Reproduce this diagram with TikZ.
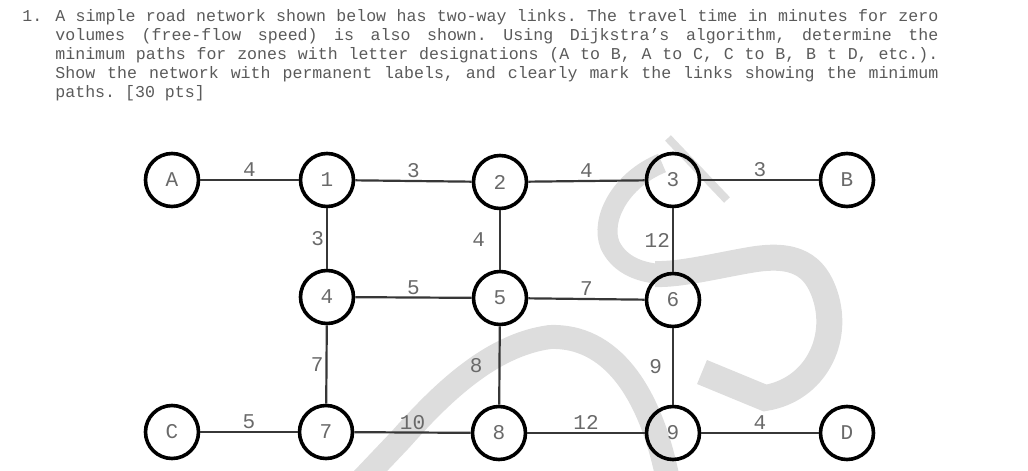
\documentclass[tikz,border=0pt]{standalone}
\usepackage{fontspec}
\usepackage{tikz}
\usetikzlibrary{positioning}
\newfontfamily\monofont{Liberation Mono}
\definecolor{txtgray}{RGB}{90,90,90}
\definecolor{labgray}{RGB}{105,105,105}
\definecolor{edgegray}{RGB}{55,55,55}
\definecolor{wmgray}{RGB}{221,221,221}
\tikzset{
  zone/.style={circle,draw=black,line width=1.8pt,minimum size=26.5pt,inner sep=0pt,font=\monofont\fontsize{10.5}{12}\selectfont,text=labgray},
  link/.style={draw=edgegray,line width=1.1pt},
  wt/.style={font=\monofont\fontsize{10.5}{12}\selectfont,text=labgray,inner sep=1pt},
  wm/.style={draw=wmgray,line width=12pt}
}

\begin{document}
\begin{tikzpicture}[x=0.5pt,y=-0.5pt]
\useasboundingbox (0,0) rectangle (1028,471);
% watermark
\begin{scope}
\clip (0,0) rectangle (1028,471);
\draw[wm,line width=4pt] (668,138) -- (727,200);
\draw[wm,line width=10pt] (662,163) .. controls (620,180) and (600,220) .. (610,245) .. controls (618,262) and (635,272) .. (660,274);
\draw[wm,line width=13pt] (655,274) .. controls (680,275) and (720,265) .. (750,260) .. controls (795,252) and (815,265) .. (825,295) .. controls (840,340) and (815,390) .. (765,398) -- (702,372);
\draw[wm] (362,480) -- (400,440) .. controls (440,395) and (490,345) .. (550,337) .. controls (610,335) and (650,390) .. (668,480);
\end{scope}
% question text
\node[anchor=base west,inner sep=0pt,text=txtgray,font=\monofont\fontsize{8.3}{9.5}\selectfont] (num) at (22,21) {1.};
\node[anchor=base west,inner sep=0pt,text width=441.5pt,align=left,text=txtgray,font=\monofont\fontsize{8.3}{9.5}\selectfont] (task) at (55,21) {\frenchspacing\spaceskip=0.6em plus 1em minus 0.05em
\makebox[441.5pt][s]{A simple road network shown below has two-way links. The travel time in minutes for zero}\\
\makebox[441.5pt][s]{volumes (free-flow speed) is also shown. Using Dijkstra’s algorithm, determine the}\\
\makebox[441.5pt][s]{minimum paths for zones with letter designations (A to B, A to C, C to B, B t D, etc.).}\\
\makebox[441.5pt][s]{Show the network with permanent labels, and clearly mark the links showing the minimum}\\
paths. [30 pts]};
% zones and nodes
\node[zone] (A) at (172,180) {A};
\node[zone] (n1) at (327,180) {1};
\node[zone] (n2) at (500,182) {2};
\node[zone] (n3) at (673,180) {3};
\node[zone] (B) at (847,180) {B};
\node[zone] (n4) at (327,297) {4};
\node[zone] (n5) at (500,298) {5};
\node[zone] (n6) at (673,300) {6};
\node[zone] (C) at (172,432) {C};
\node[zone] (n7) at (326,432) {7};
\node[zone] (n8) at (499,433) {8};
\node[zone] (n9) at (673,433) {9};
\node[zone] (D) at (847,433) {D};
% links
\draw[link] (A) -- node[wt,midway,above]{4} (n1);
\draw[link] (n1) -- node[wt,midway,above]{3} (n2);
\draw[link] (n2) -- node[wt,midway,above]{4} (n3);
\draw[link] (n3) -- node[wt,midway,above]{3} (B);
\draw[link] (n4) -- node[wt,midway,above]{5} (n5);
\draw[link] (n5) -- node[wt,midway,above]{7} (n6);
\draw[link] (C) -- node[wt,midway,above]{5} (n7);
\draw[link] (n7) -- node[wt,midway,above]{10} (n8);
\draw[link] (n8) -- node[wt,midway,above]{12} (n9);
\draw[link] (n9) -- node[wt,midway,above]{4} (D);
\draw[link] (n1) -- node[wt,midway,left]{3} (n4);
\draw[link] (n2) -- node[wt,midway,left=6pt]{4} (n5);
\draw[link] (n3) -- node[wt,midway,left]{12} (n6);
\draw[link] (n4) -- node[wt,midway,left]{7} (n7);
\draw[link] (n5) -- node[wt,midway,left=7pt]{8} (n8);
\draw[link] (n6) -- node[wt,midway,left=4pt]{9} (n9);
\end{tikzpicture}
\end{document}
